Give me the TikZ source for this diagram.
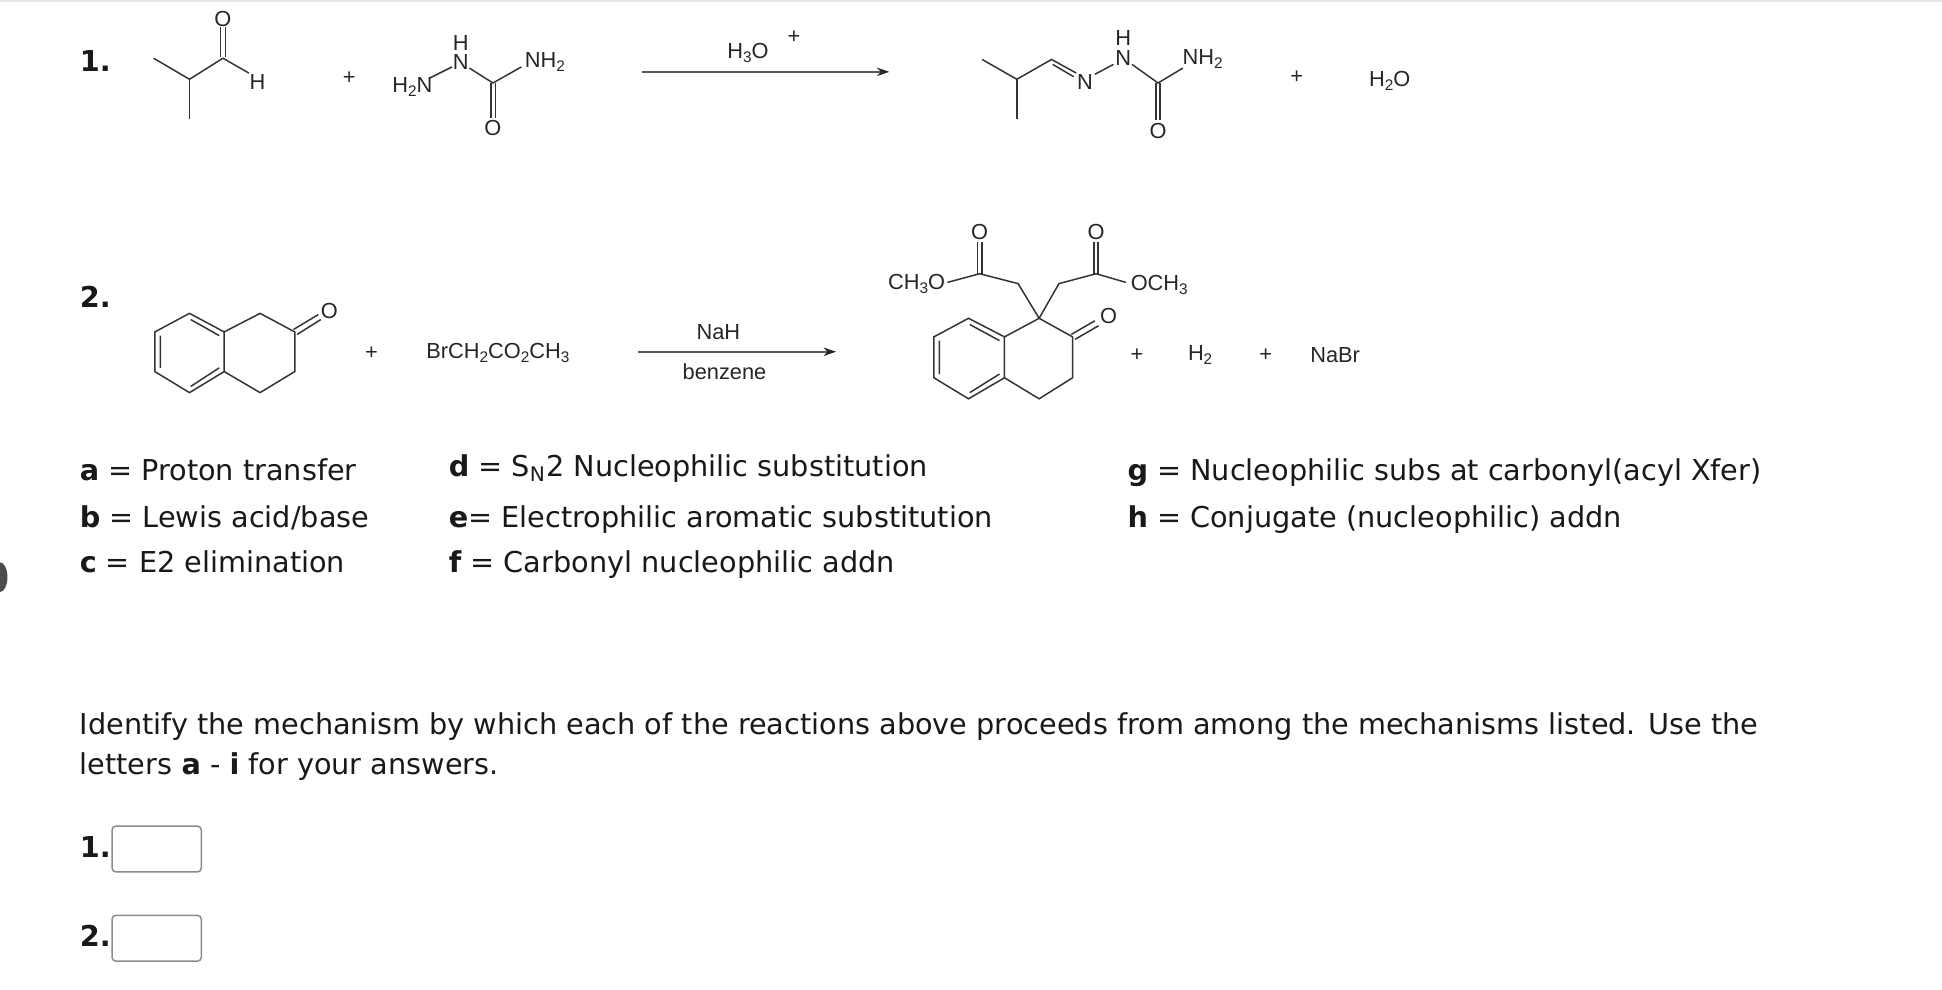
\documentclass[tikz,border=0pt]{standalone}
\usepackage{fontspec}
\setmainfont{DejaVu Sans}
\newfontfamily\chemf{Liberation Sans}
\usetikzlibrary{arrows.meta}
\newcommand{\chsub}[1]{\raisebox{-0.35ex}{\fontsize{6.2}{7}\selectfont #1}}
\begin{document}
\begin{tikzpicture}[x=0.5pt,y=-0.5pt,
  bond/.style={line width=0.6pt,color=black!80},
  lbl/.style={font=\chemf\fontsize{8.8}{10}\selectfont,inner sep=0pt,text=black!85},
  txt/.style={font=\fontsize{11.6}{13}\selectfont,anchor=base west,inner sep=0pt,text=black!90},
  bnum/.style={txt,font=\bfseries\fontsize{11.6}{13}\selectfont},
  rxarrow/.style={line width=0.7pt,color=black!65,-{Stealth[length=5pt,width=3.4pt,color=black!85]}},
  ansbox/.style={draw=black!45,rounded corners=1.5pt,line width=0.6pt,minimum width=36pt,minimum height=18.5pt,inner sep=0pt}]
\useasboundingbox (0,0) rectangle (1568,799);
\fill[white] (0,0) rectangle (1568,799);
\draw[black!10,line width=1pt] (0,0.5) -- (1568,0.5);
\fill[black!70] (0,478) arc (90:-90:6 and 12) -- cycle;
% ---------- reaction 1
\node[bnum] (n1) at (64,58) {1.};
\draw[bond] (124,47) -- (153,64) -- (180,47) -- (201,59);
\draw[bond] (153,64) -- (153,96);
\draw[bond] (178,46) -- (178,22) (182,46) -- (182,22);
\node[lbl] (ao) at (180,15) {O};
\node[lbl] (ah) at (208,66) {H};
\node[lbl] (p1) at (282,63) {+};
\node[lbl] (sa) at (333,70) {H\chsub{2}N};
\node[lbl] (sn) at (372,50) {N};
\node[lbl] (snh) at (372,35) {H};
\draw[bond] (347,63) -- (365,54);
\draw[bond] (379,55) -- (398,67) -- (421,54);
\node[lbl] (snh2) at (440,50) {NH\chsub{2}};
\draw[bond] (396.5,67) -- (396.5,95) (400,67) -- (400,95);
\node[lbl] (so) at (398,103) {O};
\coordinate (a1s) at (518,58); \coordinate (a1e) at (718,58);
\draw[rxarrow] (a1s) -- (a1e);
\node[lbl] (h3o) at (604,43) {H\chsub{3}O};
\node[lbl] (h3op) at (641,30) {+};
\draw[bond] (793,48) -- (821,64) -- (849,48) -- (869,59);
\draw[bond] (821,64) -- (821,96);
\draw[bond] (850,52) -- (867,62);
\node[lbl] (pn1) at (876,66) {N};
\draw[bond] (884,60) -- (899,52);
\node[lbl] (pn2) at (907,47) {N};
\node[lbl] (pnh) at (907,31) {H};
\draw[bond] (914,52) -- (935,67) -- (955,55);
\node[lbl] (pnh2) at (971,48) {NH\chsub{2}};
\draw[bond] (933.3,67) -- (933.3,97) (936.7,67) -- (936.7,97);
\node[lbl] (po) at (935,106) {O};
\node[lbl] (p2) at (1047,62) {+};
\node[lbl] (h2o) at (1122,65) {H\chsub{2}O};
% ---------- reaction 2
\node[bnum] (n2) at (64,248) {2.};
\draw[bond] (153,253) -- (181,268) -- (181,300) -- (153,317) -- (125,300) -- (125,268) -- cycle;
\draw[bond] (129.5,271) -- (129.5,297) (154,258) -- (177,271) (154,312) -- (177,297);
\draw[bond] (181,268) -- (210,253) -- (238,268) -- (238,300) -- (210,317) -- (181,300);
\draw[bond] (237,266) -- (257,254) (240,270) -- (259,258);
\node[lbl] (to) at (266,251) {O};
\node[lbl] (p3) at (300,285) {+};
\node[lbl] (br) at (402,285) {BrCH\chsub{2}CO\chsub{2}CH\chsub{3}};
\coordinate (a2s) at (515,284); \coordinate (a2e) at (675,284);
\draw[rxarrow] (a2s) -- (a2e);
\node[lbl] (nah) at (580,268) {NaH};
\node[lbl] (bz) at (585,300) {benzene};
\draw[bond] (782,257) -- (811,272) -- (811,305) -- (782,322) -- (754,305) -- (754,272) -- cycle;
\draw[bond] (758.5,275) -- (758.5,302) (783,262) -- (807,275) (783,317) -- (807,302);
\draw[bond] (811,272) -- (839,257) -- (866,272) -- (866,305) -- (839,322) -- (811,305);
\draw[bond] (865,270) -- (884,259) (868,274) -- (887,263);
\node[lbl] (po2) at (895,255) {O};
\draw[bond] (839,257) -- (822,229) -- (791,221) -- (765,228);
\draw[bond] (789.3,221) -- (789.3,195) (792.7,221) -- (792.7,195);
\node[lbl] (eo1) at (791,187) {O};
\node[lbl] (me1) at (740,229) {CH\chsub{3}O};
\draw[bond] (839,257) -- (855,229) -- (885,221) -- (909,228);
\draw[bond] (883.3,221) -- (883.3,195) (886.7,221) -- (886.7,195);
\node[lbl] (eo2) at (885,187) {O};
\node[lbl] (me2) at (936,230) {OCH\chsub{3}};
\node[lbl] (p4) at (918,287) {+};
\node[lbl] (h2) at (969,287) {H\chsub{2}};
\node[lbl] (p5) at (1022,287) {+};
\node[lbl] (nabr) at (1078,287) {NaBr};
% ---------- legend
\node[txt] (la) at (64,388) {\textbf{a} = Proton transfer};
\node[txt] (lb) at (64,426) {\textbf{b} = Lewis acid/base};
\node[txt] (lc) at (64,462) {\textbf{c} = E2 elimination};
\node[txt] (ld) at (362,385) {\textbf{d} = S$_{\mathrm{N}}$2 Nucleophilic substitution};
\node[txt] (le) at (362,426) {\textbf{e}= Electrophilic aromatic substitution};
\node[txt] (lf) at (362,462) {\textbf{f} = Carbonyl nucleophilic addn};
\node[txt] (lg) at (910,388) {\textbf{g} = Nucleophilic subs at carbonyl(acyl Xfer)};
\node[txt] (lh) at (910,426) {\textbf{h} = Conjugate (nucleophilic) addn};
\node[txt] (q1) at (64,593) {Identify the mechanism by which each of the reactions above proceeds from among the mechanisms listed. Use the};
\node[txt] (q2) at (64,625) {letters \textbf{a} - \textbf{i} for your answers.};
\node[bnum] (r1) at (64,692) {1.};
\node[ansbox] (b1) at (126.5,685.5) {};
\node[bnum] (r2) at (64,764) {2.};
\node[ansbox] (b2) at (126.5,757.5) {};
\end{tikzpicture}
\end{document}
